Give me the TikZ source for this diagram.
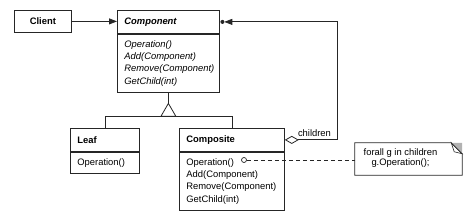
\documentclass[tikz,border=0pt]{standalone}
\usepackage{fontspec}
\setmainfont{Liberation Sans}
\usepackage{tikz}
\usetikzlibrary{calc, arrows.meta}

\tikzset{
  classe/.style={draw=black!85, line width=0.8pt, anchor=north west,
    inner xsep=7pt, inner ysep=0pt, align=left,
    font=\fontsize{9.4}{12.3}\selectfont},
  titolo/.style={classe, font=\fontsize{9.4}{12.3}\selectfont\bfseries,
    minimum height=23pt},
  linea/.style={draw=black!85, line width=0.8pt},
}

\begin{document}
\begin{tikzpicture}[x=1pt, y=-1pt, line join=miter]
\useasboundingbox (0,0) rectangle (474,213);

% classi
\node[titolo, align=center, text width=43pt, minimum height=22pt] (client) at (14,10) {Client};
\node[titolo, font=\fontsize{9.4}{12.3}\selectfont\bfseries\itshape, text width=88pt] (component) at (117,10) {Component};
\node[classe, font=\fontsize{9.4}{12.3}\selectfont\itshape, text width=88pt, minimum height=58pt] (componentops) at (component.south west)
  {Operation()\\Add(Component)\\Remove(Component)\\GetChild(int)};

\node[titolo, text width=55pt] (leaf) at (70,128) {Leaf};
\node[classe, text width=55pt, minimum height=21pt] (leafops) at (leaf.south west) {Operation()};

\node[titolo, text width=91pt] (composite) at (179,128) {Composite};
\node[classe, text width=91pt, minimum height=58pt] (compositeops) at (composite.south west)
  {Operation()\\Add(Component)\\Remove(Component)\\GetChild(int)};

% client -> component
\draw[linea, -{Triangle[length=8pt,width=6pt]}] (client.east) -- (client.east -| component.west);

% ereditarieta
\coordinate (apice) at ($(componentops.south)+(0,10)$);
\coordinate (ramo) at ($(componentops.south)+(0,24)$);
\draw[linea] (componentops.south) -- (apice);
\draw[linea, -{Triangle[open,length=14pt,width=16pt]}] (ramo) -- (apice);
\draw[linea] (leaf.north) |- (ramo) -| (composite.north);

% aggregazione children
\coordinate (giro) at ($(component.east)+(118,0)$);
\draw[linea, {Diamond[open,length=14pt,width=8pt]}-{Triangle[length=8pt,width=6pt]}, shorten >=4.5pt]
  (composite.east) -| node[pos=0.28, above, font=\fontsize{9.4}{12.3}\selectfont] (children) {children}
  (giro) -- (component.east);
\fill[black!85] ($(component.east)+(2.6,0)$) circle (2pt);

% nota
\node[minimum width=107pt, minimum height=32pt, inner sep=0pt] (nota) at (408.5,159) {};
\draw[linea] (nota.north west) -- ($(nota.north east)+(-11,0)$) -- ($(nota.north east)+(0,11)$)
  -- (nota.south east) -- (nota.south west) -- cycle;
\fill[gray!60] ($(nota.north east)+(-11,0)$) -- (nota.north east) -- ($(nota.north east)+(0,11)$) -- cycle;
\draw[linea, line width=0.6pt] ($(nota.north east)+(-11,0)$) -- ($(nota.north east)+(-8,9)$) -- ($(nota.north east)+(0,11)$)
  -- cycle;
\node[align=center, inner sep=0pt, font=\fontsize{9.4}{10}\selectfont] (notatesto) at (400.5,158.5)
  {forall g in children\\g.Operation();};

% operation -> nota
\node[circle, draw=black!85, line width=0.7pt, inner sep=0pt, minimum size=5pt] (opcerchio) at (244,160) {};
\draw[linea, dash pattern=on 4pt off 3pt] (opcerchio.east) -- (opcerchio -| nota.west);
\end{tikzpicture}
\end{document}
